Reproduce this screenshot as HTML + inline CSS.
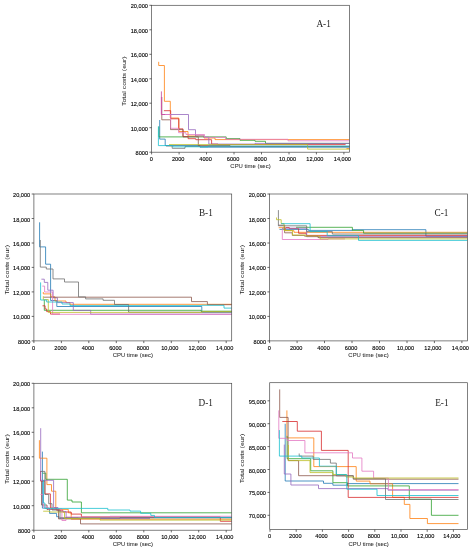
<!DOCTYPE html>
<html><head><meta charset="utf-8"><title>Figure</title>
<style>
html,body{margin:0;padding:0;background:#fff;}
body{width:471px;height:550px;overflow:hidden;}
svg{display:block;}
.t{font-family:"Liberation Sans",sans-serif;font-size:5.8px;fill:#000;stroke:#000;stroke-width:0.12px;}
.a{font-family:"Liberation Sans",sans-serif;font-size:6px;fill:#2a2a2a;stroke:#2a2a2a;stroke-width:0.05px;}
.l{font-family:"Liberation Serif",serif;font-size:10.5px;fill:#222;}
.s{fill:none;stroke-width:0.9;stroke-linejoin:miter;stroke-opacity:0.88;}
</style></head><body>
<svg width="471" height="550" viewBox="0 0 471 550">
<rect width="471" height="550" fill="#fff"/>

<g>
<clipPath id="cA"><rect x="151.6" y="5.3" width="197.8" height="146.9"/></clipPath>
<g clip-path="url(#cA)">
<path class="s" stroke="#1f77b4" d="M159.7 120.0 L159.7 139.1 L165.2 139.1 L165.2 145.5 L200.0 145.5 L200.0 147.2 L352.0 147.2"/>
<path class="s" stroke="#ff7f0e" d="M158.7 61.8 L158.7 65.5 L164.4 65.5 L164.4 101.3 L170.3 101.3 L170.3 118.0 L178.8 118.0 L178.8 131.5 L188.0 131.5 L188.0 136.0 L204.0 136.0 L204.0 138.0 L215.0 138.0 L215.0 139.6 L352.0 139.6"/>
<path class="s" stroke="#ff7f0e" d="M346.5 148.6 L352.0 148.6"/>
<path class="s" stroke="#2ca02c" d="M158.8 126.5 L158.8 136.9 L226.2 136.9 L226.2 138.6 L240.0 138.6 L240.0 140.3 L255.0 140.3 L255.0 141.3 L265.5 141.3 L265.5 143.4 L352.0 143.4"/>
<path class="s" stroke="#d62728" d="M163.9 110.7 L170.7 110.7 L170.7 118.8 L178.8 118.8 L178.8 128.9 L183.0 128.9 L183.0 136.6 L188.1 136.6 L188.1 138.7 L195.8 138.7 L195.8 139.7 L211.6 139.7 L211.6 144.1 L218.0 144.1 L218.0 144.6 L345.6 144.6"/>
<path class="s" stroke="#9467bd" d="M165.2 114.5 L188.5 114.5 L188.5 129.7 L195.5 129.7 L195.5 135.9 L204.0 135.9 L204.0 137.2 L208.8 137.2 L208.8 144.1 L255.0 144.1 L255.0 143.4 L352.0 143.4"/>
<path class="s" stroke="#8c564b" d="M161.8 97.0 L161.8 119.8 L170.5 119.8 L170.5 129.6 L183.0 129.6 L183.0 136.8 L198.3 136.8 L198.3 145.5 L230.0 145.5 L230.0 146.4 L352.0 146.4"/>
<path class="s" stroke="#e377c2" d="M161.4 97.0 L161.4 114.5 L170.7 114.5 L170.7 128.3 L178.6 128.3 L178.6 132.7 L186.0 132.7 L186.0 134.5 L204.5 134.5 L204.5 137.4 L225.6 137.4 L225.6 139.3 L288.0 139.3 L288.0 140.8 L352.0 140.8"/>
<path class="s" stroke="#c2459b" d="M161.4 91.4 L161.4 114.5 L165.2 114.5"/>
<path class="s" stroke="#6e6e6e" d="M166.0 146.0 L172.2 146.0 L172.2 148.3 L185.0 148.3 L185.0 146.5 L352.0 146.5"/>
<path class="s" stroke="#bcbd22" d="M169.0 144.6 L307.6 144.6 L307.6 149.1 L352.0 149.1"/>
<path class="s" stroke="#17becf" d="M158.4 126.4 L158.4 145.6 L172.8 145.6 L172.8 146.8 L208.0 146.8 L208.0 146.1 L352.0 146.1"/>
</g>
<rect x="151.6" y="5.3" width="197.8" height="146.9" fill="none" stroke="#4a4a4a" stroke-width="0.7"/>
<line x1="151.6" y1="152.2" x2="151.6" y2="154.4" stroke="#444" stroke-width="0.8"/>
<text class="t" transform="translate(151.2 161.0) scale(0.97 1)" text-anchor="middle">0</text>
<line x1="179.1" y1="152.2" x2="179.1" y2="154.4" stroke="#444" stroke-width="0.8"/>
<text class="t" transform="translate(178.2 161.0) scale(0.97 1)" text-anchor="middle">2000</text>
<line x1="206.5" y1="152.2" x2="206.5" y2="154.4" stroke="#444" stroke-width="0.8"/>
<text class="t" transform="translate(205.6 161.0) scale(0.97 1)" text-anchor="middle">4000</text>
<line x1="234.0" y1="152.2" x2="234.0" y2="154.4" stroke="#444" stroke-width="0.8"/>
<text class="t" transform="translate(233.1 161.0) scale(0.97 1)" text-anchor="middle">6000</text>
<line x1="261.5" y1="152.2" x2="261.5" y2="154.4" stroke="#444" stroke-width="0.8"/>
<text class="t" transform="translate(260.6 161.0) scale(0.97 1)" text-anchor="middle">8000</text>
<line x1="289.0" y1="152.2" x2="289.0" y2="154.4" stroke="#444" stroke-width="0.8"/>
<text class="t" transform="translate(287.5 161.0) scale(0.97 1)" text-anchor="middle">10,000</text>
<line x1="316.4" y1="152.2" x2="316.4" y2="154.4" stroke="#444" stroke-width="0.8"/>
<text class="t" transform="translate(314.9 161.0) scale(0.97 1)" text-anchor="middle">12,000</text>
<line x1="343.9" y1="152.2" x2="343.9" y2="154.4" stroke="#444" stroke-width="0.8"/>
<text class="t" transform="translate(342.4 161.0) scale(0.97 1)" text-anchor="middle">14,000</text>
<line x1="149.4" y1="152.2" x2="151.6" y2="152.2" stroke="#444" stroke-width="0.8"/>
<text class="t" transform="translate(148.1 155.2) scale(0.97 1)" text-anchor="end">8000</text>
<line x1="149.4" y1="127.7" x2="151.6" y2="127.7" stroke="#444" stroke-width="0.8"/>
<text class="t" transform="translate(147.9 130.7) scale(0.97 1)" text-anchor="end">10,000</text>
<line x1="149.4" y1="103.2" x2="151.6" y2="103.2" stroke="#444" stroke-width="0.8"/>
<text class="t" transform="translate(147.9 106.2) scale(0.97 1)" text-anchor="end">12,000</text>
<line x1="149.4" y1="78.8" x2="151.6" y2="78.8" stroke="#444" stroke-width="0.8"/>
<text class="t" transform="translate(147.9 81.8) scale(0.97 1)" text-anchor="end">14,000</text>
<line x1="149.4" y1="54.3" x2="151.6" y2="54.3" stroke="#444" stroke-width="0.8"/>
<text class="t" transform="translate(147.9 57.3) scale(0.97 1)" text-anchor="end">16,000</text>
<line x1="149.4" y1="29.8" x2="151.6" y2="29.8" stroke="#444" stroke-width="0.8"/>
<text class="t" transform="translate(147.9 32.8) scale(0.97 1)" text-anchor="end">18,000</text>
<line x1="149.4" y1="5.3" x2="151.6" y2="5.3" stroke="#444" stroke-width="0.8"/>
<text class="t" transform="translate(147.9 8.3) scale(0.97 1)" text-anchor="end">20,000</text>
<text class="a" transform="translate(250.5 168.2) scale(0.99 1)" text-anchor="middle">CPU time (sec)</text>
<text class="a" transform="translate(126.2 81.2) rotate(-90) scale(1.165 1)" text-anchor="middle">Total costs (eur)</text>
<text class="l" transform="translate(316.4 27.3) scale(0.88 1)">A-1</text>
</g>
<g>
<clipPath id="cB"><rect x="33.9" y="194.0" width="197.8" height="146.9"/></clipPath>
<g clip-path="url(#cB)">
<path class="s" stroke="#1f77b4" d="M39.6 222.3 L39.6 246.9 L45.6 246.9 L45.6 264.2 L50.6 264.2 L50.6 300.5 L56.8 300.5 L56.8 306.5 L201.8 306.5 L201.8 312.0 L233.0 312.0"/>
<path class="s" stroke="#ff7f0e" d="M43.3 292.0 L43.3 293.9 L50.8 293.9 L50.8 296.8 L55.0 296.8 L55.0 301.0 L66.0 301.0 L66.0 302.6 L70.0 302.6 L70.0 304.3 L233.0 304.3"/>
<path class="s" stroke="#2ca02c" d="M44.3 300.0 L44.3 310.3 L201.0 310.3 L201.0 311.2 L233.0 311.2"/>
<path class="s" stroke="#d62728" d="M42.5 305.8 L45.1 305.8 L45.1 309.0 L46.7 309.0 L46.7 311.6 L50.5 311.6 L50.5 314.1 L60.0 314.1"/>
<path class="s" stroke="#9467bd" d="M41.4 279.2 L44.3 279.2 L44.3 282.4 L47.8 282.4 L47.8 290.2 L53.1 290.2 L53.1 297.8 L57.4 297.8 L57.4 302.6 L73.3 302.6 L73.3 310.4 L90.7 310.4 L90.7 314.2 L233.0 314.2"/>
<path class="s" stroke="#8c564b" d="M43.5 297.2 L191.5 297.2 L191.5 301.6 L207.4 301.6 L207.4 304.7 L233.0 304.7"/>
<path class="s" stroke="#e377c2" d="M42.3 286.1 L44.6 286.1 L44.6 292.0 L52.6 292.0 L52.6 314.3 L233.0 314.3"/>
<path class="s" stroke="#6e6e6e" d="M40.3 240.0 L40.3 267.1 L46.3 267.1 L46.3 269.0 L53.0 269.0 L53.0 278.9 L64.5 278.9 L64.5 282.0 L78.5 282.0 L78.5 296.9 L85.6 296.9 L85.6 298.9 L103.1 298.9 L103.1 300.3 L114.5 300.3 L114.5 304.5 L128.6 304.5 L128.6 312.2 L233.0 312.2"/>
<path class="s" stroke="#bcbd22" d="M43.3 296.2 L43.3 299.6 L48.3 299.6 L48.3 312.4 L201.8 312.4 L201.8 311.6 L233.0 311.6"/>
<path class="s" stroke="#17becf" d="M40.6 282.4 L40.6 300.0 L46.7 300.0 L46.7 302.0 L62.0 302.0 L62.0 304.0 L70.0 304.0 L70.0 305.6 L201.8 305.6 L201.8 305.3 L224.0 305.3 L224.0 308.1 L233.0 308.1"/>
</g>
<rect x="33.9" y="194.0" width="197.8" height="146.9" fill="none" stroke="#4a4a4a" stroke-width="0.7"/>
<line x1="33.9" y1="340.9" x2="33.9" y2="343.1" stroke="#444" stroke-width="0.8"/>
<text class="t" transform="translate(33.5 349.7) scale(0.97 1)" text-anchor="middle">0</text>
<line x1="61.4" y1="340.9" x2="61.4" y2="343.1" stroke="#444" stroke-width="0.8"/>
<text class="t" transform="translate(60.5 349.7) scale(0.97 1)" text-anchor="middle">2000</text>
<line x1="88.8" y1="340.9" x2="88.8" y2="343.1" stroke="#444" stroke-width="0.8"/>
<text class="t" transform="translate(87.9 349.7) scale(0.97 1)" text-anchor="middle">4000</text>
<line x1="116.3" y1="340.9" x2="116.3" y2="343.1" stroke="#444" stroke-width="0.8"/>
<text class="t" transform="translate(115.4 349.7) scale(0.97 1)" text-anchor="middle">6000</text>
<line x1="143.8" y1="340.9" x2="143.8" y2="343.1" stroke="#444" stroke-width="0.8"/>
<text class="t" transform="translate(142.9 349.7) scale(0.97 1)" text-anchor="middle">8000</text>
<line x1="171.3" y1="340.9" x2="171.3" y2="343.1" stroke="#444" stroke-width="0.8"/>
<text class="t" transform="translate(169.8 349.7) scale(0.97 1)" text-anchor="middle">10,000</text>
<line x1="198.7" y1="340.9" x2="198.7" y2="343.1" stroke="#444" stroke-width="0.8"/>
<text class="t" transform="translate(197.2 349.7) scale(0.97 1)" text-anchor="middle">12,000</text>
<line x1="226.2" y1="340.9" x2="226.2" y2="343.1" stroke="#444" stroke-width="0.8"/>
<text class="t" transform="translate(224.7 349.7) scale(0.97 1)" text-anchor="middle">14,000</text>
<line x1="31.7" y1="340.9" x2="33.9" y2="340.9" stroke="#444" stroke-width="0.8"/>
<text class="t" transform="translate(30.4 343.9) scale(0.97 1)" text-anchor="end">8000</text>
<line x1="31.7" y1="316.4" x2="33.9" y2="316.4" stroke="#444" stroke-width="0.8"/>
<text class="t" transform="translate(30.2 319.4) scale(0.97 1)" text-anchor="end">10,000</text>
<line x1="31.7" y1="291.9" x2="33.9" y2="291.9" stroke="#444" stroke-width="0.8"/>
<text class="t" transform="translate(30.2 294.9) scale(0.97 1)" text-anchor="end">12,000</text>
<line x1="31.7" y1="267.4" x2="33.9" y2="267.4" stroke="#444" stroke-width="0.8"/>
<text class="t" transform="translate(30.2 270.4) scale(0.97 1)" text-anchor="end">14,000</text>
<line x1="31.7" y1="243.0" x2="33.9" y2="243.0" stroke="#444" stroke-width="0.8"/>
<text class="t" transform="translate(30.2 246.0) scale(0.97 1)" text-anchor="end">16,000</text>
<line x1="31.7" y1="218.5" x2="33.9" y2="218.5" stroke="#444" stroke-width="0.8"/>
<text class="t" transform="translate(30.2 221.5) scale(0.97 1)" text-anchor="end">18,000</text>
<line x1="31.7" y1="194.0" x2="33.9" y2="194.0" stroke="#444" stroke-width="0.8"/>
<text class="t" transform="translate(30.2 197.0) scale(0.97 1)" text-anchor="end">20,000</text>
<text class="a" transform="translate(132.8 356.9) scale(0.99 1)" text-anchor="middle">CPU time (sec)</text>
<text class="a" transform="translate(8.5 269.8) rotate(-90) scale(1.165 1)" text-anchor="middle">Total costs (eur)</text>
<text class="l" transform="translate(198.9 216.1) scale(0.88 1)">B-1</text>
</g>
<g>
<clipPath id="cC"><rect x="269.6" y="194.0" width="197.8" height="146.9"/></clipPath>
<g clip-path="url(#cC)">
<path class="s" stroke="#1f77b4" d="M279.5 229.4 L308.4 229.4 L308.4 230.4 L352.4 230.4 L352.4 229.7 L425.9 229.7 L425.9 236.3 L468.0 236.3"/>
<path class="s" stroke="#ff7f0e" d="M278.7 227.7 L285.5 227.7 L285.5 230.7 L294.0 230.7 L294.0 232.3 L468.0 232.3"/>
<path class="s" stroke="#2ca02c" d="M296.0 227.3 L352.4 227.3 L352.4 230.4 L363.6 230.4 L363.6 233.2 L468.0 233.2"/>
<path class="s" stroke="#d62728" d="M285.9 227.5 L289.3 227.5 L289.3 228.6 L298.6 228.6 L298.6 233.3 L306.3 233.3 L306.3 235.4 L468.0 235.4"/>
<path class="s" stroke="#9467bd" d="M282.5 229.0 L282.5 228.2 L306.7 228.2 L306.7 236.7 L468.0 236.7"/>
<path class="s" stroke="#8c564b" d="M278.4 225.2 L284.6 225.2 L284.6 232.8 L292.3 232.8 L292.3 235.4 L304.6 235.4 L304.6 236.2 L318.0 236.2 L318.0 237.6 L468.0 237.6"/>
<path class="s" stroke="#e377c2" d="M282.3 229.0 L282.3 239.5 L328.0 239.5 L328.0 238.9 L345.0 238.9"/>
<path class="s" stroke="#6e6e6e" d="M278.4 210.1 L278.4 225.8 L306.7 225.8 L306.7 231.6 L332.3 231.6 L332.3 234.0 L468.0 234.0"/>
<path class="s" stroke="#bcbd22" d="M276.5 217.5 L276.5 219.7 L281.2 219.7 L281.2 223.5 L284.0 223.5 L284.0 230.5 L292.5 230.5 L292.5 235.0 L306.0 235.0 L306.0 236.0 L320.0 236.0 L320.0 238.9 L468.0 238.9"/>
<path class="s" stroke="#17becf" d="M281.0 223.7 L310.1 223.7 L310.1 231.6 L327.2 231.6 L327.2 235.6 L358.5 235.6 L358.5 240.4 L468.0 240.4"/>
</g>
<rect x="269.6" y="194.0" width="197.8" height="146.9" fill="none" stroke="#4a4a4a" stroke-width="0.7"/>
<line x1="269.6" y1="340.9" x2="269.6" y2="343.1" stroke="#444" stroke-width="0.8"/>
<text class="t" transform="translate(269.2 349.7) scale(0.97 1)" text-anchor="middle">0</text>
<line x1="297.1" y1="340.9" x2="297.1" y2="343.1" stroke="#444" stroke-width="0.8"/>
<text class="t" transform="translate(296.2 349.7) scale(0.97 1)" text-anchor="middle">2000</text>
<line x1="324.5" y1="340.9" x2="324.5" y2="343.1" stroke="#444" stroke-width="0.8"/>
<text class="t" transform="translate(323.6 349.7) scale(0.97 1)" text-anchor="middle">4000</text>
<line x1="352.0" y1="340.9" x2="352.0" y2="343.1" stroke="#444" stroke-width="0.8"/>
<text class="t" transform="translate(351.1 349.7) scale(0.97 1)" text-anchor="middle">6000</text>
<line x1="379.5" y1="340.9" x2="379.5" y2="343.1" stroke="#444" stroke-width="0.8"/>
<text class="t" transform="translate(378.6 349.7) scale(0.97 1)" text-anchor="middle">8000</text>
<line x1="407.0" y1="340.9" x2="407.0" y2="343.1" stroke="#444" stroke-width="0.8"/>
<text class="t" transform="translate(405.5 349.7) scale(0.97 1)" text-anchor="middle">10,000</text>
<line x1="434.4" y1="340.9" x2="434.4" y2="343.1" stroke="#444" stroke-width="0.8"/>
<text class="t" transform="translate(432.9 349.7) scale(0.97 1)" text-anchor="middle">12,000</text>
<line x1="461.9" y1="340.9" x2="461.9" y2="343.1" stroke="#444" stroke-width="0.8"/>
<text class="t" transform="translate(460.4 349.7) scale(0.97 1)" text-anchor="middle">14,000</text>
<line x1="267.4" y1="340.9" x2="269.6" y2="340.9" stroke="#444" stroke-width="0.8"/>
<text class="t" transform="translate(266.1 343.9) scale(0.97 1)" text-anchor="end">8000</text>
<line x1="267.4" y1="316.4" x2="269.6" y2="316.4" stroke="#444" stroke-width="0.8"/>
<text class="t" transform="translate(265.9 319.4) scale(0.97 1)" text-anchor="end">10,000</text>
<line x1="267.4" y1="291.9" x2="269.6" y2="291.9" stroke="#444" stroke-width="0.8"/>
<text class="t" transform="translate(265.9 294.9) scale(0.97 1)" text-anchor="end">12,000</text>
<line x1="267.4" y1="267.4" x2="269.6" y2="267.4" stroke="#444" stroke-width="0.8"/>
<text class="t" transform="translate(265.9 270.4) scale(0.97 1)" text-anchor="end">14,000</text>
<line x1="267.4" y1="243.0" x2="269.6" y2="243.0" stroke="#444" stroke-width="0.8"/>
<text class="t" transform="translate(265.9 246.0) scale(0.97 1)" text-anchor="end">16,000</text>
<line x1="267.4" y1="218.5" x2="269.6" y2="218.5" stroke="#444" stroke-width="0.8"/>
<text class="t" transform="translate(265.9 221.5) scale(0.97 1)" text-anchor="end">18,000</text>
<line x1="267.4" y1="194.0" x2="269.6" y2="194.0" stroke="#444" stroke-width="0.8"/>
<text class="t" transform="translate(265.9 197.0) scale(0.97 1)" text-anchor="end">20,000</text>
<text class="a" transform="translate(368.5 356.9) scale(0.99 1)" text-anchor="middle">CPU time (sec)</text>
<text class="a" transform="translate(244.2 269.8) rotate(-90) scale(1.165 1)" text-anchor="middle">Total costs (eur)</text>
<text class="l" transform="translate(434.5 216.1) scale(0.88 1)">C-1</text>
</g>
<g>
<clipPath id="cD"><rect x="33.9" y="383.3" width="197.8" height="146.9"/></clipPath>
<g clip-path="url(#cD)">
<path class="s" stroke="#1f77b4" d="M42.4 451.6 L42.4 508.1 L49.6 508.1 L49.6 513.4 L56.6 513.4 L56.6 516.7 L59.1 516.7 L59.1 518.3 L120.0 518.3 L120.0 517.6 L233.0 517.6"/>
<path class="s" stroke="#ff7f0e" d="M39.4 440.2 L39.4 458.2 L46.9 458.2 L46.9 484.6 L51.5 484.6 L51.5 491.2 L55.8 491.2 L55.8 509.4 L68.3 509.4 L68.3 512.8 L71.2 512.8 L71.2 519.2 L233.0 519.2"/>
<path class="s" stroke="#2ca02c" d="M42.6 473.2 L45.8 473.2 L45.8 479.3 L67.3 479.3 L67.3 500.1 L72.0 500.1 L72.0 502.0 L81.4 502.0 L81.4 512.8 L233.0 512.8"/>
<path class="s" stroke="#d62728" d="M40.5 471.0 L40.5 481.1 L44.9 481.1 L44.9 493.9 L50.4 493.9 L50.4 508.1 L56.6 508.1 L56.6 510.3 L62.9 510.3 L62.9 512.0 L71.2 512.0 L71.2 514.1 L81.4 514.1 L81.4 516.9 L220.3 516.9 L220.3 521.3 L233.0 521.3"/>
<path class="s" stroke="#9467bd" d="M40.7 428.2 L40.7 480.3 L53.6 480.3 L53.6 507.5 L58.0 507.5 L58.0 511.6 L66.1 511.6 L66.1 517.9 L78.2 517.9 L78.2 518.6 L150.0 518.6"/>
<path class="s" stroke="#8c564b" d="M41.5 481.0 L41.5 505.0 L47.0 505.0 L47.0 509.5 L58.5 509.5 L58.5 518.9 L80.5 518.9 L80.5 523.9 L233.0 523.9"/>
<path class="s" stroke="#e377c2" d="M40.5 494.5 L43.3 494.5 L43.3 507.0 L48.0 507.0 L48.0 509.0 L61.9 509.0 L61.9 520.5 L66.0 520.5 L66.0 517.0 L110.0 517.0 L110.0 516.3 L233.0 516.3"/>
<path class="s" stroke="#6e6e6e" d="M40.8 471.0 L40.8 471.4 L44.9 471.4 L44.9 494.5 L48.7 494.5 L48.7 503.7 L52.0 503.7 L52.0 510.0 L60.0 510.0 L60.0 517.8 L233.0 517.8"/>
<path class="s" stroke="#bcbd22" d="M43.2 511.2 L49.6 511.2 L49.6 512.0 L64.5 512.0 L64.5 518.5 L100.0 518.5 L100.0 520.1 L233.0 520.1"/>
<path class="s" stroke="#17becf" d="M43.5 480.0 L43.5 503.0 L44.9 503.0 L44.9 508.4 L107.8 508.4 L107.8 510.0 L130.0 510.0 L130.0 511.1 L140.6 511.1 L140.6 513.3 L150.8 513.3 L150.8 515.4 L154.5 515.4 L154.5 517.4 L233.0 517.4"/>
</g>
<rect x="33.9" y="383.3" width="197.8" height="146.9" fill="none" stroke="#4a4a4a" stroke-width="0.7"/>
<line x1="33.9" y1="530.2" x2="33.9" y2="532.4" stroke="#444" stroke-width="0.8"/>
<text class="t" transform="translate(33.5 539.0) scale(0.97 1)" text-anchor="middle">0</text>
<line x1="61.4" y1="530.2" x2="61.4" y2="532.4" stroke="#444" stroke-width="0.8"/>
<text class="t" transform="translate(60.5 539.0) scale(0.97 1)" text-anchor="middle">2000</text>
<line x1="88.8" y1="530.2" x2="88.8" y2="532.4" stroke="#444" stroke-width="0.8"/>
<text class="t" transform="translate(87.9 539.0) scale(0.97 1)" text-anchor="middle">4000</text>
<line x1="116.3" y1="530.2" x2="116.3" y2="532.4" stroke="#444" stroke-width="0.8"/>
<text class="t" transform="translate(115.4 539.0) scale(0.97 1)" text-anchor="middle">6000</text>
<line x1="143.8" y1="530.2" x2="143.8" y2="532.4" stroke="#444" stroke-width="0.8"/>
<text class="t" transform="translate(142.9 539.0) scale(0.97 1)" text-anchor="middle">8000</text>
<line x1="171.3" y1="530.2" x2="171.3" y2="532.4" stroke="#444" stroke-width="0.8"/>
<text class="t" transform="translate(169.8 539.0) scale(0.97 1)" text-anchor="middle">10,000</text>
<line x1="198.7" y1="530.2" x2="198.7" y2="532.4" stroke="#444" stroke-width="0.8"/>
<text class="t" transform="translate(197.2 539.0) scale(0.97 1)" text-anchor="middle">12,000</text>
<line x1="226.2" y1="530.2" x2="226.2" y2="532.4" stroke="#444" stroke-width="0.8"/>
<text class="t" transform="translate(224.7 539.0) scale(0.97 1)" text-anchor="middle">14,000</text>
<line x1="31.7" y1="530.2" x2="33.9" y2="530.2" stroke="#444" stroke-width="0.8"/>
<text class="t" transform="translate(30.4 533.2) scale(0.97 1)" text-anchor="end">8000</text>
<line x1="31.7" y1="505.7" x2="33.9" y2="505.7" stroke="#444" stroke-width="0.8"/>
<text class="t" transform="translate(30.2 508.7) scale(0.97 1)" text-anchor="end">10,000</text>
<line x1="31.7" y1="481.2" x2="33.9" y2="481.2" stroke="#444" stroke-width="0.8"/>
<text class="t" transform="translate(30.2 484.2) scale(0.97 1)" text-anchor="end">12,000</text>
<line x1="31.7" y1="456.8" x2="33.9" y2="456.8" stroke="#444" stroke-width="0.8"/>
<text class="t" transform="translate(30.2 459.8) scale(0.97 1)" text-anchor="end">14,000</text>
<line x1="31.7" y1="432.3" x2="33.9" y2="432.3" stroke="#444" stroke-width="0.8"/>
<text class="t" transform="translate(30.2 435.3) scale(0.97 1)" text-anchor="end">16,000</text>
<line x1="31.7" y1="407.8" x2="33.9" y2="407.8" stroke="#444" stroke-width="0.8"/>
<text class="t" transform="translate(30.2 410.8) scale(0.97 1)" text-anchor="end">18,000</text>
<line x1="31.7" y1="383.3" x2="33.9" y2="383.3" stroke="#444" stroke-width="0.8"/>
<text class="t" transform="translate(30.2 386.3) scale(0.97 1)" text-anchor="end">20,000</text>
<text class="a" transform="translate(132.8 546.2) scale(0.99 1)" text-anchor="middle">CPU time (sec)</text>
<text class="a" transform="translate(8.5 459.1) rotate(-90) scale(1.165 1)" text-anchor="middle">Total costs (eur)</text>
<text class="l" transform="translate(198.5 405.5) scale(0.88 1)">D-1</text>
</g>
<g>
<clipPath id="cE"><rect x="269.7" y="382.7" width="197.8" height="146.9"/></clipPath>
<g clip-path="url(#cE)">
<path class="s" stroke="#1f77b4" d="M285.2 423.8 L285.2 481.0 L323.5 481.0 L323.5 483.3 L332.9 483.3 L332.9 485.2 L347.0 485.2 L347.0 483.6 L458.5 483.6"/>
<path class="s" stroke="#ff7f0e" d="M286.9 410.4 L286.9 437.9 L313.8 437.9 L313.8 466.6 L356.2 466.6 L356.2 481.1 L370.0 481.1 L370.0 483.8 L392.6 483.8 L392.6 497.3 L404.3 497.3 L404.3 504.4 L409.9 504.4 L409.9 518.5 L427.4 518.5 L427.4 523.6 L458.5 523.6"/>
<path class="s" stroke="#2ca02c" d="M287.1 435.9 L287.1 458.7 L310.7 458.7 L310.7 470.8 L332.9 470.8 L332.9 482.7 L347.5 482.7 L347.5 485.9 L409.3 485.9 L409.3 499.2 L431.4 499.2 L431.4 515.3 L458.5 515.3"/>
<path class="s" stroke="#d62728" d="M282.3 421.5 L297.3 421.5 L297.3 431.2 L321.4 431.2 L321.4 450.4 L348.2 450.4 L348.2 497.4 L458.5 497.4"/>
<path class="s" stroke="#9467bd" d="M284.3 444.6 L284.3 474.0 L290.9 474.0 L290.9 485.0 L318.5 485.0 L318.5 488.6 L388.0 488.6 L388.0 490.2 L458.5 490.2"/>
<path class="s" stroke="#8c564b" d="M279.7 389.4 L279.7 417.4 L288.1 417.4 L288.1 460.6 L298.6 460.6 L298.6 475.7 L353.3 475.7 L353.3 479.2 L458.5 479.2"/>
<path class="s" stroke="#e377c2" d="M278.8 410.4 L278.8 438.3 L287.1 438.3 L287.1 440.5 L304.9 440.5 L304.9 452.8 L352.5 452.8 L352.5 458.0 L361.9 458.0 L361.9 471.2 L373.6 471.2 L373.6 478.2 L388.4 478.2 L388.4 489.6 L458.5 489.6"/>
<path class="s" stroke="#6e6e6e" d="M299.2 453.5 L299.2 456.1 L313.2 456.1 L313.2 459.4 L330.4 459.4 L330.4 463.1 L336.3 463.1 L336.3 475.9 L353.3 475.9 L353.3 478.7 L385.5 478.7 L385.5 499.5 L458.5 499.5"/>
<path class="s" stroke="#bcbd22" d="M288.4 445.0 L288.4 460.6 L310.0 460.6 L310.0 472.6 L332.9 472.6 L332.9 474.5 L346.0 474.5 L346.0 477.0 L353.6 477.0 L353.6 478.0 L458.5 478.0"/>
<path class="s" stroke="#17becf" d="M279.4 430.1 L279.4 456.1 L301.8 456.1 L301.8 458.0 L319.4 458.0 L319.4 466.2 L336.3 466.2 L336.3 474.5 L346.8 474.5 L346.8 489.2 L377.0 489.2 L377.0 495.5 L458.5 495.5"/>
</g>
<rect x="269.7" y="382.7" width="197.8" height="146.9" fill="none" stroke="#4a4a4a" stroke-width="0.7"/>
<line x1="270.0" y1="529.6" x2="270.0" y2="531.8" stroke="#444" stroke-width="0.8"/>
<text class="t" transform="translate(269.6 538.4) scale(0.97 1)" text-anchor="middle">0</text>
<line x1="296.2" y1="529.6" x2="296.2" y2="531.8" stroke="#444" stroke-width="0.8"/>
<text class="t" transform="translate(295.3 538.4) scale(0.97 1)" text-anchor="middle">2000</text>
<line x1="322.4" y1="529.6" x2="322.4" y2="531.8" stroke="#444" stroke-width="0.8"/>
<text class="t" transform="translate(321.5 538.4) scale(0.97 1)" text-anchor="middle">4000</text>
<line x1="348.6" y1="529.6" x2="348.6" y2="531.8" stroke="#444" stroke-width="0.8"/>
<text class="t" transform="translate(347.7 538.4) scale(0.97 1)" text-anchor="middle">6000</text>
<line x1="374.8" y1="529.6" x2="374.8" y2="531.8" stroke="#444" stroke-width="0.8"/>
<text class="t" transform="translate(373.9 538.4) scale(0.97 1)" text-anchor="middle">8000</text>
<line x1="401.0" y1="529.6" x2="401.0" y2="531.8" stroke="#444" stroke-width="0.8"/>
<text class="t" transform="translate(399.5 538.4) scale(0.97 1)" text-anchor="middle">10,000</text>
<line x1="427.2" y1="529.6" x2="427.2" y2="531.8" stroke="#444" stroke-width="0.8"/>
<text class="t" transform="translate(425.7 538.4) scale(0.97 1)" text-anchor="middle">12,000</text>
<line x1="453.4" y1="529.6" x2="453.4" y2="531.8" stroke="#444" stroke-width="0.8"/>
<text class="t" transform="translate(451.9 538.4) scale(0.97 1)" text-anchor="middle">14,000</text>
<line x1="267.5" y1="515.3" x2="269.7" y2="515.3" stroke="#444" stroke-width="0.8"/>
<text class="t" transform="translate(266.0 518.3) scale(0.97 1)" text-anchor="end">70,000</text>
<line x1="267.5" y1="492.4" x2="269.7" y2="492.4" stroke="#444" stroke-width="0.8"/>
<text class="t" transform="translate(266.0 495.4) scale(0.97 1)" text-anchor="end">75,000</text>
<line x1="267.5" y1="469.5" x2="269.7" y2="469.5" stroke="#444" stroke-width="0.8"/>
<text class="t" transform="translate(266.0 472.5) scale(0.97 1)" text-anchor="end">80,000</text>
<line x1="267.5" y1="446.6" x2="269.7" y2="446.6" stroke="#444" stroke-width="0.8"/>
<text class="t" transform="translate(266.0 449.6) scale(0.97 1)" text-anchor="end">85,000</text>
<line x1="267.5" y1="423.7" x2="269.7" y2="423.7" stroke="#444" stroke-width="0.8"/>
<text class="t" transform="translate(266.0 426.7) scale(0.97 1)" text-anchor="end">90,000</text>
<line x1="267.5" y1="400.8" x2="269.7" y2="400.8" stroke="#444" stroke-width="0.8"/>
<text class="t" transform="translate(266.0 403.8) scale(0.97 1)" text-anchor="end">95,000</text>
<text class="a" transform="translate(368.6 545.6) scale(0.99 1)" text-anchor="middle">CPU time (sec)</text>
<text class="a" transform="translate(244.3 458.5) rotate(-90) scale(1.165 1)" text-anchor="middle">Total costs (eur)</text>
<text class="l" transform="translate(435.2 405.5) scale(0.88 1)">E-1</text>
</g>
</svg></body></html>
